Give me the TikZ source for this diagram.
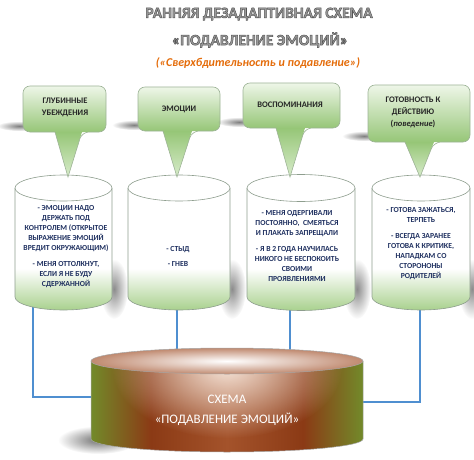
\documentclass[tikz,border=0pt]{standalone}
\usepackage{fontspec}
\setmainfont{Carlito}
\usetikzlibrary{fadings}
\definecolor{titlegray}{HTML}{9A9A9A}
\definecolor{suborange}{HTML}{E46C0A}
\definecolor{navy}{HTML}{1F3060}
\definecolor{cylgreen}{HTML}{A9D18E}
\definecolor{cylline}{HTML}{8E9E8E}
\definecolor{boxgreen}{HTML}{96C677}
\definecolor{boxtop}{HTML}{EEF6E8}
\definecolor{ptrlight}{HTML}{D8ECCB}
\definecolor{boxline}{HTML}{9DB396}
\definecolor{linkblue}{HTML}{4F8FD0}
\definecolor{bgreen}{HTML}{728A2A}
\definecolor{bbrown}{HTML}{8B3A15}
\definecolor{bmid}{HTML}{A4532B}
\definecolor{blight}{HTML}{F4E2D6}
\definecolor{rimout}{HTML}{C08A70}
\pgfdeclareverticalshading{cylshade}{100bp}{color(0bp)=(cylgreen); color(25bp)=(cylgreen); color(42bp)=(white); color(100bp)=(white)}
\pgfdeclareverticalshading{boxshade}{100bp}{color(0bp)=(boxgreen); color(25bp)=(boxgreen); color(75bp)=(boxtop); color(100bp)=(boxtop)}
\pgfdeclareverticalshading{ptrshade}{100bp}{color(0bp)=(ptrlight); color(25bp)=(ptrlight); color(75bp)=(boxgreen); color(100bp)=(boxgreen)}
\pgfdeclarehorizontalshading{bowlside}{100bp}{color(0bp)=(bgreen); color(25bp)=(bgreen); color(36bp)=(bbrown); color(50bp)=(bmid); color(64bp)=(bbrown); color(75bp)=(bgreen); color(100bp)=(bgreen)}
\tikzfading[name=glowfade, inner color=transparent!0, outer color=transparent!100]
\newcommand\outlined[1]{\special{pdf:literal direct 2 Tr 0.5 w 0.33 0.33 0.33 RG}#1\special{pdf:literal direct 0 Tr}}
\newcommand\mycyl[5]{% cx, rx, ytop, ybot, ry
  \fill[black!45, path fading=glowfade] ({#1+#2+2},{#4+8}) ellipse [x radius=14, y radius=30];
  \path[shading=cylshade] ({#1-#2},#3) -- ({#1-#2},#4) arc[start angle=180, end angle=360, x radius=#2, y radius=#5] -- ({#1+#2},#3) -- cycle;
  \draw[cylline, line width=0.6pt] ({#1-#2},#3) -- ({#1-#2},#4) arc[start angle=180, end angle=360, x radius=#2, y radius=#5] -- ({#1+#2},#3);
  \draw[cylline, line width=0.6pt, fill=white] (#1,#3) ellipse [x radius=#2, y radius=#5];
}
\newcommand\mycallout[8]{% x1, ytop, x2, ybot, baseleft, baseright, tipx, tipy
  \fill[black!50, path fading=glowfade] ({#1-4},{#4+6}) ellipse [x radius=22, y radius=5];
  \path[shading=ptrshade] (#5,#4) -- (#6,#4) -- (#7,#8) -- cycle;
  \path[shading=boxshade, rounded corners=7pt] (#1,#2) rectangle (#3,#4);
  \draw[boxline, line width=0.6pt] (#5,#4) [rounded corners=7pt] -- (#1,#4) -- (#1,#2) -- (#3,#2) -- (#3,#4) -- (#6,#4) [sharp corners] -- (#7,#8) -- cycle;
}
\begin{document}
\begin{tikzpicture}[x=1pt, y=1pt,
  titlestyle/.style={inner sep=0pt, text=titlegray, font=\bfseries\fontsize{15.5}{18}\selectfont},
  substyle/.style={inner sep=0pt, text=suborange, font=\bfseries\itshape\fontsize{12}{14}\selectfont},
  boxtext/.style={inner sep=0pt, align=center, text=black!85, font=\bfseries\fontsize{8.5}{12}\selectfont},
  cyltext/.style={inner sep=0pt, align=center, text=navy, font=\bfseries\fontsize{7.7}{10}\selectfont},
  bowltext/.style={inner sep=0pt, align=center, text=white, font=\fontsize{13}{20}\selectfont},
  link/.style={draw=linkblue, line width=1.6pt}]
\useasboundingbox (0,0) rectangle (474,-460);
% titles
\node[titlestyle] (t1) at (259,-14) {\outlined{РАННЯЯ ДЕЗАДАПТИВНАЯ СХЕМА}};
\node[titlestyle] (t2) at (260,-40) {\outlined{«ПОДАВЛЕНИЕ ЭМОЦИЙ»}};
\node[substyle] (t3) at (258,-63) {(«Сверхбдительность и подавление»)};
% connectors
\coordinate (c1b) at (33,-300);
\coordinate (bL) at (100,-397);
\coordinate (c2b) at (177,-300);
\coordinate (b2) at (177,-360);
\coordinate (c3b) at (290,-300);
\coordinate (b3) at (290,-360);
\coordinate (c4b) at (420,-300);
\coordinate (bR) at (355,-402);
\draw[link] (c1b) |- (bL);
\draw[link] (c2b) -- (b2);
\draw[link] (c3b) -- (b3);
\draw[link] (c4b) |- (bR);
% cylinders
\mycyl{63.5}{48.5}{-188}{-297}{13}
\mycyl{179}{51}{-188}{-297}{13}
\mycyl{301}{54}{-188}{-297}{13.5}
\mycyl{421}{49}{-188}{-297}{13}
% cylinder texts
\node[cyltext] (x1) at (66,-247) {- ЭМОЦИИ НАДО\\ДЕРЖАТЬ ПОД\\КОНТРОЛЕМ (ОТКРЫТОЕ\\ВЫРАЖЕНИЕ ЭМОЦИЙ\\ВРЕДИТ ОКРУЖАЮЩИМ)\\[6pt]- МЕНЯ ОТТОЛКНУТ,\\ЕСЛИ Я НЕ БУДУ\\СДЕРЖАННОЙ};
\node[cyltext] (x2) at (178,-256) {- СТЫД\\[5pt]- ГНЕВ};
\node[cyltext] (x3) at (297,-246) {- МЕНЯ ОДЕРГИВАЛИ\\ПОСТОЯННО,\ \ СМЕЯТЬСЯ\\И ПЛАКАТЬ ЗАПРЕЩАЛИ\\[6pt]- Я В 2 ГОДА НАУЧИЛАСЬ\\НИКОГО НЕ БЕСПОКОИТЬ\\СВОИМИ\\ПРОЯВЛЕНИЯМИ};
\node[cyltext] (x4) at (421,-244) {- ГОТОВА ЗАЖАТЬСЯ,\\ТЕРПЕТЬ\\[6pt]- ВСЕГДА ЗАРАНЕЕ\\ГОТОВА К КРИТИКЕ,\\НАПАДКАМ СО\\СТОРОНОНЫ\\РОДИТЕЛЕЙ};
% callouts
\mycallout{23}{-86}{106}{-132}{55}{82}{68}{-177}
\mycallout{138}{-87}{220}{-131}{163}{192}{177}{-177}
\mycallout{243}{-83}{340}{-128}{276}{305}{290}{-177}
\mycallout{368}{-85}{470}{-142}{405}{434}{420}{-177}
\node[boxtext] (h1) at (65,-107) {ГЛУБИННЫЕ\\УБЕЖДЕНИЯ};
\node[boxtext] (h2) at (179,-109) {ЭМОЦИИ};
\node[boxtext] (h3) at (290,-105) {ВОСПОМИНАНИЯ};
\node[boxtext] (h4) at (413,-112) {ГОТОВНОСТЬ К\\ДЕЙСТВИЮ\\(\textit{поведение})};
% bowl
\fill[black!55, path fading=glowfade] (98,-440) ellipse [x radius=40, y radius=14];
\path[shading=bowlside] (91,-361) -- (91,-439) arc[start angle=180, end angle=360, x radius=136, y radius=13] -- (363,-361) -- cycle;
\begin{scope}
  \clip (91,-361) -- (91,-439) arc[start angle=180, end angle=360, x radius=136, y radius=13] -- (363,-361) -- cycle;
  \fill[blight, path fading=glowfade] (227,-368) ellipse [x radius=115, y radius=70];
\end{scope}
\draw[gray!70, line width=0.5pt] (91,-361) -- (91,-439) arc[start angle=180, end angle=360, x radius=136, y radius=13] -- (363,-361);
\draw[gray!70, line width=0.5pt, inner color=white, outer color=rimout] (227,-361) ellipse [x radius=136, y radius=13];
\node[bowltext] (s1) at (227,-410) {СХЕМА\\«ПОДАВЛЕНИЕ ЭМОЦИЙ»};
\end{tikzpicture}
\end{document}
